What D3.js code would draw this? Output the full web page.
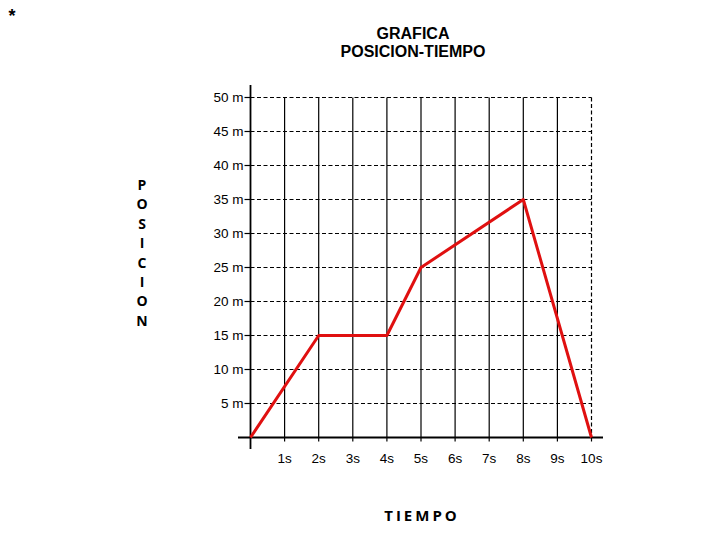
<!DOCTYPE html>
<style type="text/css">
  body { margin: 0; background: #fff; }
  svg { display: block; }
</style>
<svg width="728" height="546"></svg>
<script src="https://cdn.jsdelivr.net/npm/d3@7"></script>
<script>

var tiempo = [0, 2, 4, 5, 8, 10],
    posicion = [0, 15, 15, 25, 35, 0];
var xTicks = [1, 2, 3, 4, 5, 6, 7, 8, 9, 10],
    yTicks = [5, 10, 15, 20, 25, 30, 35, 40, 45, 50];
var yLetters = "POSICION".split("");

var svg = d3.select("svg");
var x = d3.scaleLinear().domain([0, 10]).range([250.5, 591.5]),
    y = d3.scaleLinear().domain([0, 50]).range([437.5, 97.5]);

var g = svg.append("g");

// horizontal dashed grid
g.selectAll(".hgrid").data(yTicks).enter().append("line")
  .attr("x1", x(0)).attr("x2", x(10))
  .attr("y1", function(d){ return y(d); }).attr("y2", function(d){ return y(d); })
  .attr("stroke", "#000").attr("stroke-width", 1.2).attr("stroke-dasharray", "4,2.5");

// vertical solid grid
g.selectAll(".vgrid").data(xTicks.slice(0, 9)).enter().append("line")
  .attr("x1", function(d){ return x(d); }).attr("x2", function(d){ return x(d); })
  .attr("y1", y(50)).attr("y2", y(0) + 4)
  .attr("stroke", "#000").attr("stroke-width", 1.2);

// right dashed border
g.append("line")
  .attr("x1", x(10)).attr("x2", x(10)).attr("y1", y(50)).attr("y2", y(0))
  .attr("stroke", "#000").attr("stroke-width", 1.2).attr("stroke-dasharray", "4,2.5");
g.append("line")
  .attr("x1", x(10)).attr("x2", x(10)).attr("y1", y(0)).attr("y2", y(0) + 4)
  .attr("stroke", "#000").attr("stroke-width", 1.2);

// axes lines
g.append("line").attr("x1", 238).attr("x2", 603).attr("y1", y(0)).attr("y2", y(0))
  .attr("stroke", "#000").attr("stroke-width", 1.8);
g.append("line").attr("x1", x(0)).attr("x2", x(0)).attr("y1", 85).attr("y2", 449)
  .attr("stroke", "#000").attr("stroke-width", 1.8);

// y ticks
g.selectAll(".ytick").data(yTicks).enter().append("line")
  .attr("x1", x(0) - 6).attr("x2", x(0))
  .attr("y1", function(d){ return y(d); }).attr("y2", function(d){ return y(d); })
  .attr("stroke", "#000").attr("stroke-width", 1.2);

g.selectAll(".ylab").data(yTicks).enter().append("text")
  .attr("x", x(0) - 7).attr("y", function(d){ return y(d); })
  .attr("dy", "0.35em").attr("text-anchor", "end")
  .attr("font-family", "Liberation Sans, Arial, sans-serif").attr("font-size", 13.5)
  .text(function(d){ return d + " m"; });

g.selectAll(".xlab").data(xTicks).enter().append("text")
  .attr("x", function(d){ return x(d); }).attr("y", 463)
  .attr("text-anchor", "middle")
  .attr("font-family", "Liberation Sans, Arial, sans-serif").attr("font-size", 13.5)
  .text(function(d){ return d + "s"; });

// data line
var line = d3.line()
  .x(function(d, i){ return x(tiempo[i]); })
  .y(function(d){ return y(d); });
g.append("path").datum(posicion)
  .attr("d", line).attr("fill", "none")
  .attr("stroke", "#e01010").attr("stroke-width", 3).attr("stroke-linejoin", "round");

// title
svg.append("text").attr("x", 413).attr("y", 39).attr("text-anchor", "middle")
  .attr("font-family", "Liberation Sans, Arial, sans-serif").attr("font-size", 16).attr("font-weight", "bold")
  .text("GRAFICA");
svg.append("text").attr("x", 413).attr("y", 57).attr("text-anchor", "middle")
  .attr("font-family", "Liberation Sans, Arial, sans-serif").attr("font-size", 16).attr("font-weight", "bold")
  .text("POSICION-TIEMPO");

// y axis title, one letter per line
svg.selectAll(".yl").data(yLetters).enter().append("text")
  .attr("x", 142).attr("y", function(d, i){ return 190 + i * 19.4; })
  .attr("text-anchor", "middle")
  .attr("font-family", "Open Sans, sans-serif").attr("font-size", 14).attr("font-weight", "bold")
  .text(function(d){ return d; });

// x axis title
svg.append("text").attr("x", 422).attr("y", 521).attr("text-anchor", "middle")
  .attr("font-family", "Open Sans, sans-serif").attr("font-size", 15).attr("font-weight", "bold")
  .attr("letter-spacing", "3px")
  .text("TIEMPO");

svg.append("text").attr("x", 12).attr("y", 22).attr("text-anchor", "middle")
  .attr("font-family", "Liberation Sans, Arial, sans-serif").attr("font-size", 18).attr("font-weight", "bold")
  .text("*");

</script>
